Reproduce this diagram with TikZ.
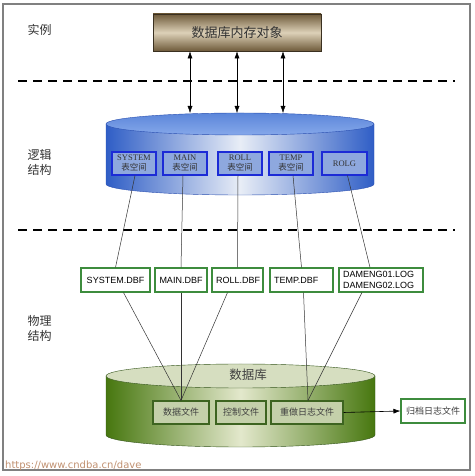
\documentclass[tikz,border=0pt]{standalone}
\usepackage{fontspec}
\setmainfont{Liberation Serif}
\setsansfont{Liberation Sans}
\newfontfamily\cjk{Noto Sans CJK SC}
\newfontfamily\wmfont{DejaVu Sans}
\usetikzlibrary{arrows.meta}

\definecolor{memdark}{HTML}{6E5A3A}
\definecolor{memlight}{HTML}{DDD1B8}
\definecolor{memedge}{HTML}{3A3020}
\definecolor{blueside}{HTML}{2F5EC6}
\definecolor{bluemid}{HTML}{E8EDF6}
\definecolor{bluetop}{HTML}{86A8EA}
\definecolor{bluetopd}{HTML}{5B86DA}
\definecolor{blueedge}{HTML}{2A4FB0}
\definecolor{tsblue}{HTML}{1C2BD6}
\definecolor{tsfill}{HTML}{8EA8DE}
\definecolor{greenside}{HTML}{47770F}
\definecolor{greenmid}{HTML}{E3E8CC}
\definecolor{greentop}{HTML}{D6DEC0}
\definecolor{greenedge}{HTML}{33541A}
\definecolor{dbedge}{HTML}{3D6420}
\definecolor{dbfill}{HTML}{C4D0AA}
\definecolor{filegreen}{HTML}{3D8C3D}
\definecolor{wmcolor}{HTML}{C09070}

\begin{document}
\begin{tikzpicture}[x=1pt,y=1pt,
    tsbox/.style={draw=tsblue, line width=1.1pt, fill=tsfill, minimum width=44pt,
      minimum height=23pt, inner sep=1pt, align=center, text=black!80,
      font=\fontsize{8.5}{10}\selectfont},
    filebox/.style={draw=filegreen, line width=1.1pt, fill=white, minimum height=24pt,
      inner xsep=4pt, inner ysep=2pt, font=\sffamily\fontsize{9}{11}\selectfont},
    dbbox/.style={draw=dbedge, line width=1.1pt, fill=dbfill, minimum height=23pt,
      inner sep=1pt, text=black!75, font=\cjk\fontsize{9}{10}\selectfont},
    side/.style={anchor=west, align=left, text=black!80, font=\cjk\fontsize{12}{15}\selectfont},
    divider/.style={line width=1.6pt, dash pattern=on 9pt off 6pt},
    link/.style={line width=0.5pt, black!80}]

  \useasboundingbox (0,0) rectangle (474,476);
  \draw[black!50, line width=1.2pt] (3,472) rectangle (470,6);

  \node[side] (inst) at (24,446) {实例};
  \node[side] (logi) at (24,314) {逻辑\\结构};
  \node[side] (phys) at (24,148) {物理\\结构};

  \draw[divider] (18,395) -- (455,395);
  \draw[divider] (18,246) -- (455,246);

  \node[draw=memedge, line width=0.8pt, top color=memdark, bottom color=memdark,
    middle color=memlight, minimum width=168pt, minimum height=37pt,
    font=\cjk\fontsize{13}{15}\selectfont, text=black!80] (mem) at (237,443.5) {数据库内存对象};

  \draw[draw=blueedge, left color=blueside, right color=blueside, middle color=bluemid]
    (106,352) -- (106,292) arc[start angle=180, end angle=360, x radius=134pt, y radius=11pt]
    -- (374,352) -- cycle;
  \draw[draw=blueedge, top color=bluetopd, bottom color=bluetop]
    (240,352) ellipse[x radius=134pt, y radius=11pt];

  \coordinate (c1) at (190,363);
  \coordinate (c2) at (237,363);
  \coordinate (c3) at (283,363);
  \draw[{Latex[length=7pt,width=5pt]}-{Latex[length=7pt,width=5pt]}] (c1 |- mem.south) -- (c1);
  \draw[{Latex[length=7pt,width=5pt]}-{Latex[length=7pt,width=5pt]}] (c2 |- mem.south) -- (c2);
  \draw[{Latex[length=7pt,width=5pt]}-{Latex[length=7pt,width=5pt]}] (c3 |- mem.south) -- (c3);

  \node[tsbox] (ts1) at (134,312.5) {SYSTEM\\{\cjk 表空间}};
  \node[tsbox] (ts2) at (185,312.5) {MAIN\\{\cjk 表空间}};
  \node[tsbox] (ts3) at (240,312.5) {ROLL\\{\cjk 表空间}};
  \node[tsbox] (ts4) at (291,312.5) {TEMP\\{\cjk 表空间}};
  \node[tsbox, minimum width=45pt] (ts5) at (344.5,312.5) {ROLG};

  \node[filebox, text width=61pt, align=center] (f1) at (115.5,196) {SYSTEM.DBF};
  \node[filebox, text width=44pt, align=center] (f2) at (181,196) {MAIN.DBF};
  \node[filebox, text width=43pt, align=center] (f3) at (237.5,196) {ROLL.DBF};
  \node[filebox, text width=55pt, align=left] (f4) at (301.5,196) {TEMP.DBF};
  \node[filebox, text width=76pt, align=left] (f5) at (381,196) {DAMENG01.LOG\\DAMENG02.LOG};

  \draw[draw=greenedge, left color=greenside, right color=greenside, middle color=greenmid]
    (106,100) -- (106,41) arc[start angle=180, end angle=360, x radius=134.5pt, y radius=12pt]
    -- (375,100) -- cycle;
  \draw[draw=greenedge, fill=greentop] (240.5,100) ellipse[x radius=134.5pt, y radius=12pt];
  \node[font=\cjk\fontsize{12.5}{15}\selectfont, text=black!75] (dbl) at (248,101) {数据库};

  \node[dbbox, minimum width=56pt] (d1) at (181,63.5) {数据文件};
  \node[dbbox, minimum width=50pt] (d2) at (241,63.5) {控制文件};
  \node[dbbox, minimum width=72pt] (d3) at (307,63.5) {重做日志文件};
  \node[draw=filegreen, line width=1.1pt, fill=white, minimum width=64pt, minimum height=24pt,
    inner sep=1pt, text=black!75, font=\cjk\fontsize{9}{10}\selectfont] (arch) at (433,65) {归档日志文件};

  \draw[link] ([xshift=1pt]ts1.south) -- (f1.north);
  \draw[link] ([xshift=-2pt]ts2.south) -- (f2.north);
  \draw[link] ([xshift=-2pt]ts3.south) -- (f3.north);
  \draw[link] ([xshift=2pt]ts4.south) -- (f4.north);
  \draw[link] ([xshift=3pt]ts5.south) -- ([xshift=-11pt]f5.north);

  \draw[link] ([xshift=8pt]f1.south) -- (d1.north);
  \draw[link] (f2.south) -- (d1.north);
  \draw[link] ([xshift=-10pt]f3.south) -- (d1.north);
  \draw[link] ([xshift=2pt]f4.south) -- ([xshift=1pt]d3.north);
  \draw[link] ([xshift=-19pt]f5.south) -- ([xshift=1pt]d3.north);

  \draw[-{Latex[length=7pt,width=5pt]}, line width=0.6pt] (d3.east) -- (arch.west);

  \node[anchor=west, inner sep=0pt, text=wmcolor, font=\wmfont\fontsize{10}{12}\selectfont] (wm) at (5,10) {https://www.cndba.cn/dave};
\end{tikzpicture}
\end{document}
